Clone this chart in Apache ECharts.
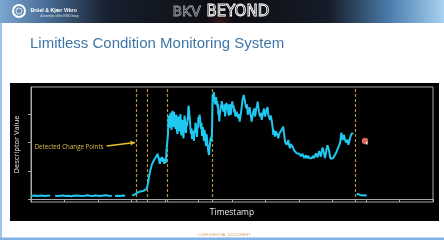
<!DOCTYPE html>
<html><head><meta charset="utf-8">
<script src="https://cdn.jsdelivr.net/npm/echarts@6/dist/echarts.min.js"></script>
<style>html,body{margin:0;padding:0;background:#fff;overflow:hidden}#c{width:444px;height:240px}</style>
</head><body><div id="c"></div>
<script>
// ---- data ----
const baselineA = [[0,0.13],[6,0.12],[12,0.13],[18,0.11],[24,0.12],[30,0.13],[36,0.12],[42,0.11],[48,0.12],[57,0.13]];
const baselineB = [[72,0.12],[80,0.11],[88,0.12],[96,0.13],[104,0.11],[112,0.12],[120,0.10],[128,0.12],[136,0.13],[144,0.12],[152,0.11],[160,0.12],[168,0.14],[176,0.12],[184,0.11],[192,0.13],[200,0.12],[208,0.11],[216,0.13],[224,0.14],[232,0.12],[241,0.11]];
const baselineC = [[251,0.11],[258,0.12],[266,0.11],[273,0.13],[281,0.12]];
const ramp = [[302.4,0.13],[310.4,0.17],[320.3,0.25],[328.4,0.28],[335.2,0.29],[345.4,0.36],[350.2,0.62],[352.8,0.82],[355.2,0.97],[358.2,1.11],[360.3,1.21],[362.7,1.28],[365.1,1.18],[367.8,1.39],[370.1,1.35],[373.1,1.49],[375.5,1.42],[377.6,1.60],[380.0,1.67],[382.1,1.39],[384.5,1.25],[386.9,1.46],[389.0,1.35],[391.0,1.49],[393.4,1.32],[395.5,1.46],[397.6,1.25],[400.0,1.39],[402.4,1.28],[403.9,1.56],[404.8,1.78]];
const plateau = [[406.0,1.85],[407.5,2.10],[409.0,2.31],[410.4,2.95],[411.9,2.73],[413.4,2.52],[414.9,2.87],[416.4,3.05],[417.9,2.59],[419.4,2.45],[420.9,3.01],[422.4,3.12],[423.9,2.76],[425.4,2.55],[426.9,3.08],[428.3,2.90],[429.8,2.62],[431.3,2.48],[432.8,2.83],[434.3,2.98],[435.8,2.41],[437.3,2.30],[438.8,2.73],[440.3,2.92],[441.8,2.52],[443.3,2.40],[444.8,2.87],[446.3,3.00],[447.8,2.38],[449.2,2.25],[450.7,2.66],[452.2,2.80],[453.7,2.27],[455.2,2.15],[456.7,2.55],[458.2,2.95],[459.7,2.80],[461.2,2.50],[462.7,2.34],[464.2,2.72],[465.7,2.59],[467.1,2.78],[468.6,2.91],[470.1,3.30],[471.6,3.19],[473.1,2.95],[474.6,2.73],[476.1,2.45],[477.6,2.31],[479.1,2.50],[480.6,2.13],[482.1,2.28],[483.6,2.41],[485.0,2.22],[486.5,2.06],[488.0,2.45],[489.5,2.34],[491.0,2.70],[492.5,2.59],[494.0,2.35],[495.5,2.20],[497.0,2.60],[498.5,2.52],[500.0,2.90],[501.5,2.76],[503.0,2.98],[504.5,2.87],[505.9,2.60],[507.4,2.48],[508.9,2.70],[510.4,2.23],[511.9,2.40],[513.4,2.55],[514.9,2.25],[516.4,2.06],[517.9,2.45],[519.4,2.31],[520.9,2.05],[522.4,1.88],[523.8,2.30],[525.3,2.16],[526.8,1.95],[528.3,1.78],[529.8,1.65],[531.3,1.56],[532.8,1.80],[534.3,1.95],[535.8,2.10],[537.3,2.20],[538.8,2.05],[540.3,2.41]];
const peakDecline = [[542.1,3.68],[543.1,3.45],[544.2,3.50],[545.7,3.78],[547.2,3.61],[549.0,3.35],[550.7,3.48],[552.5,3.60],[554.3,3.33],[555.8,3.45],[557.3,3.22],[558.2,3.35],[559.1,2.98],[560.6,3.10],[562.1,2.74],[563.1,2.95],[564.2,2.98],[565.7,3.20],[567.2,3.33],[568.2,3.20],[569.2,3.46],[571.6,3.30],[574.0,3.09],[575.5,3.30],[577.0,3.15],[578.0,3.35],[579.1,2.92],[580.1,3.00],[581.2,3.09],[583.1,3.40],[585.1,3.27],[587.0,3.35],[589.0,3.05],[590.5,2.95],[592.0,3.22],[594.0,3.35],[596.1,2.98],[597.6,3.10],[599.1,3.33],[601.0,3.45],[603.0,3.22],[605.0,3.30],[606.9,3.05],[608.4,3.18],[609.9,2.92],[612.0,3.00],[614.1,3.09],[616.4,2.95],[618.8,2.86],[620.9,3.00],[623.0,2.74],[625.0,2.90],[626.9,3.05],[628.9,3.25],[630.8,3.46],[632.9,3.53],[635.0,3.68],[637.0,3.55],[638.9,3.44],[640.8,3.30],[642.8,3.21],[644.9,3.35],[647.0,2.98],[649.0,3.05],[650.9,3.15],[652.7,3.25],[654.6,3.04],[656.7,2.90],[658.8,2.74],[661.2,2.95],[663.6,3.09],[666.1,3.20],[668.7,2.92],[670.6,3.05],[672.5,3.21],[674.6,3.30],[676.7,3.44],[678.6,3.25],[680.6,3.09],[682.1,3.00],[683.6,2.92],[686.1,3.05],[688.6,2.80],[691.0,2.95],[693.4,3.09],[696.0,3.20],[698.5,2.92],[701.0,3.05],[703.5,3.15],[706.0,3.25],[708.4,2.98],[710.9,3.05],[713.4,2.80],[715.3,2.95],[717.3,2.86],[719.4,2.70],[721.5,2.51],[722.4,2.40],[723.3,2.27],[724.3,2.45],[725.4,2.41],[726.8,2.30],[728.3,2.21],[730.8,2.40],[733.4,2.34],[735.8,2.25],[738.2,2.15],[740.7,2.30],[743.3,2.27],[745.8,2.40],[748.3,2.33],[750.7,2.45],[753.1,2.56],[754.1,2.45],[755.2,2.34],[756.7,2.20],[758.2,2.03],[760.7,2.10],[763.3,1.92],[765.7,1.98],[768.1,2.09],[770.6,1.90],[773.1,1.80],[775.6,1.95],[778.2,1.92],[780.6,1.85],[783.0,1.80],[785.5,1.72],[788.0,1.68],[790.5,1.74],[793.1,1.62],[795.5,1.66],[797.9,1.56],[800.5,1.60],[803.0,1.62],[805.5,1.52],[808.0,1.56],[810.4,1.60],[812.8,1.54],[815.3,1.45],[817.9,1.50],[820.5,1.55],[823.0,1.45],[825.3,1.40],[827.7,1.53],[830.2,1.45],[832.8,1.47],[835.3,1.52],[837.9,1.44],[840.3,1.40],[842.7,1.53],[845.2,1.45],[847.7,1.47],[850.3,1.62],[852.8,1.58],[855.2,1.48],[857.6,1.54],[860.1,1.70],[862.7,1.68],[865.2,1.50],[867.8,1.56],[870.1,1.82],[872.5,1.74],[875.0,1.60],[877.6,1.45],[880.1,1.60],[882.7,1.80],[885.1,1.90],[887.5,1.86],[890.0,1.70],[892.5,1.50],[895.0,1.42],[897.6,1.39],[900.0,1.46],[902.4,1.46],[904.9,1.42],[907.4,1.50],[910.0,1.62],[912.5,1.68],[914.9,1.76],[917.3,1.80],[919.8,1.90],[922.4,1.98],[923.9,2.10],[925.4,2.23],[926.4,2.35],[927.4,2.39],[928.9,2.20],[930.4,2.09],[932.3,2.18],[934.3,2.27],[936.3,2.15],[938.2,2.09],[940.3,2.00],[942.4,2.03],[944.8,2.10],[947.2,1.92],[949.7,2.02],[952.2,2.15],[954.7,2.25],[957.3,2.21],[958.8,2.34],[960.3,2.29]];
const afterLast = [[972.2,0.19],[982.1,0.15],[991.9,0.13],[1002.1,0.14]];
const changePoints = [315.5, 346.3, 406.0, 541.2, 969.2];
const yTickValues = [0, 1, 2, 3];
const annotationText = 'Detected Change Points';
const annotationLabelAt = [218, 1.835];
const annotationArrow = [[226, 1.88], [310.5, 2.0]];

const gap = (t) => [t, '-'];
const seriesData = [].concat(baselineA, [gap(64)], baselineB, [gap(246)], baselineC, [gap(290)], ramp, plateau, peakDecline, [gap(965)], afterLast);

const chart = echarts.init(document.getElementById('c'), null, {renderer: 'canvas'});
chart.setOption({
  animation: false,
  backgroundColor: '#ffffff',
  graphic: { elements: [
    { type: 'rect', z: 0, shape: {x: 0, y: 0, width: 444, height: 23},
      style: { fill: new echarts.graphic.LinearGradient(0, 0, 1, 0, [
        {offset: 0, color: '#7aa6d0'}, {offset: 0.1, color: '#4a6f98'}, {offset: 0.24, color: '#17202e'},
        {offset: 0.5, color: '#0c0c10'}, {offset: 0.74, color: '#151c28'}, {offset: 0.88, color: '#4d7eae'},
        {offset: 1, color: '#a8d2f2'}]) } },
    { type: 'rect', z: 0, shape: {x: 120, y: 0, width: 200, height: 23},
      style: { fill: new echarts.graphic.RadialGradient(0.5, 1, 0.6, [
        {offset: 0, color: 'rgba(140,40,40,0.35)'}, {offset: 1, color: 'rgba(140,40,40,0)'}]) } },
    { type: 'circle', z: 1, shape: {cx: 19, cy: 11, r: 6}, style: {fill: 'none', stroke: '#ffffff', lineWidth: 2} },
    { type: 'circle', z: 1, shape: {cx: 19, cy: 11, r: 3}, style: {fill: 'none', stroke: 'rgba(255,255,255,0.8)', lineWidth: 1} },
    { type: 'text', z: 1, x: 30.5, y: 10.3, style: {text: 'Brüel & Kjær Vibro', fill: '#ffffff', font: 'bold 5.2px "Liberation Sans"', verticalAlign: 'middle'} },
    { type: 'text', z: 1, x: 40.5, y: 15.8, style: {text: 'A member of the NSK Group', fill: '#dde6ee', font: '3px "Liberation Sans"', verticalAlign: 'middle'} },
    { type: 'text', z: 1, x: 172.5, y: 12, style: {text: 'BKV', fill: 'none', stroke: '#9aa0a8', lineWidth: 0.8, font: '14px "DejaVu Sans"', verticalAlign: 'middle'} },
    { type: 'text', z: 1, x: 206.5, y: 12, style: {text: 'BEYOND', fill: 'none', stroke: '#ffffff', lineWidth: 0.9, font: '15px "DejaVu Sans"', verticalAlign: 'middle'} },
    { type: 'rect', z: 0, shape: {x: 0, y: 23, width: 2, height: 217}, style: {fill: '#9cc6ee'} },
    { type: 'rect', z: 0, shape: {x: 0, y: 237.5, width: 444, height: 2.5}, style: {fill: '#7fb2e6'} },
    { type: 'text', z: 1, x: 30, y: 43.6, style: {text: 'Limitless Condition Monitoring System', fill: '#3f76a8', font: '15px "Liberation Sans"', verticalAlign: 'middle'} },
    { type: 'rect', z: 0, shape: {x: 10, y: 83, width: 429, height: 138}, style: {fill: '#000000'} },
    { type: 'text', z: 1, x: 224, y: 235, style: {text: 'CONFIDENTIAL DOCUMENT', fill: '#d4a46a', font: '4px "Liberation Sans"', align: 'center', verticalAlign: 'middle'} },
    { type: 'circle', z: 20, shape: {cx: 365, cy: 141, r: 3.2}, style: {fill: '#d46a5a'} },
    { type: 'rect', z: 21, shape: {x: 366, y: 142, width: 1.4, height: 2.4}, style: {fill: '#ffffff'} }
  ]},
  grid: { left: 31, right: 11, top: 87, bottom: 38, show: true, borderColor: '#a8a8a8', borderWidth: 1, backgroundColor: 'transparent', z: 10 },
  xAxis: {
    type: 'value', min: 0, max: 1200, interval: 100, z: 10,
    name: 'Timestamp', nameLocation: 'middle', nameGap: 6,
    nameTextStyle: {color: '#e8e8e8', fontSize: 8.5, fontFamily: 'Open Sans', verticalAlign: 'top'},
    axisLine: {show: true, lineStyle: {color: '#a8a8a8', width: 1}},
    axisTick: {show: true, inside: false, length: 3, lineStyle: {color: '#a8a8a8'}},
    axisLabel: {show: false}, splitLine: {show: false}
  },
  yAxis: {
    type: 'value', min: -0.1, max: 3.96, z: 10,
    name: 'Descriptor Value', nameLocation: 'middle', nameGap: 10,
    nameTextStyle: {color: '#e8e8e8', fontSize: 7.5, fontFamily: 'Open Sans'},
    axisLine: {show: true, lineStyle: {color: '#a8a8a8', width: 1}},
    axisTick: {show: true, inside: false, length: 3, customValues: yTickValues, lineStyle: {color: '#a8a8a8'}},
    axisLabel: {show: false, customValues: yTickValues}, splitLine: {show: false}
  },
  series: [{
    type: 'line', z: 12, data: seriesData, showSymbol: false, connectNulls: false,
    lineStyle: {color: '#1ec8f0', width: 2}, itemStyle: {color: '#1ec8f0'},
    markLine: {
      silent: true, symbol: ['none', 'none'], animation: false,
      label: {show: false},
      lineStyle: {color: '#b39140', type: [3, 2], width: 1.2},
      data: changePoints.map(t => ({xAxis: t})).concat([[
        {coord: annotationArrow[0], symbol: 'none', lineStyle: {color: '#e8c030', type: 'solid', width: 1.5}},
        {coord: annotationArrow[1], symbol: 'arrow', symbolSize: [4, 5], lineStyle: {color: '#e8c030', type: 'solid', width: 1.5}}
      ]])
    },
    markPoint: {
      silent: true, animation: false,
      data: [{coord: annotationLabelAt, symbol: 'rect', symbolSize: 1, itemStyle: {color: 'rgba(0,0,0,0)'},
        label: {show: true, position: 'left', distance: 0, formatter: annotationText, color: '#dcbc48', fontSize: 6.2, fontFamily: 'Open Sans'}}]
    }
  }]
});
</script>
</body></html>
